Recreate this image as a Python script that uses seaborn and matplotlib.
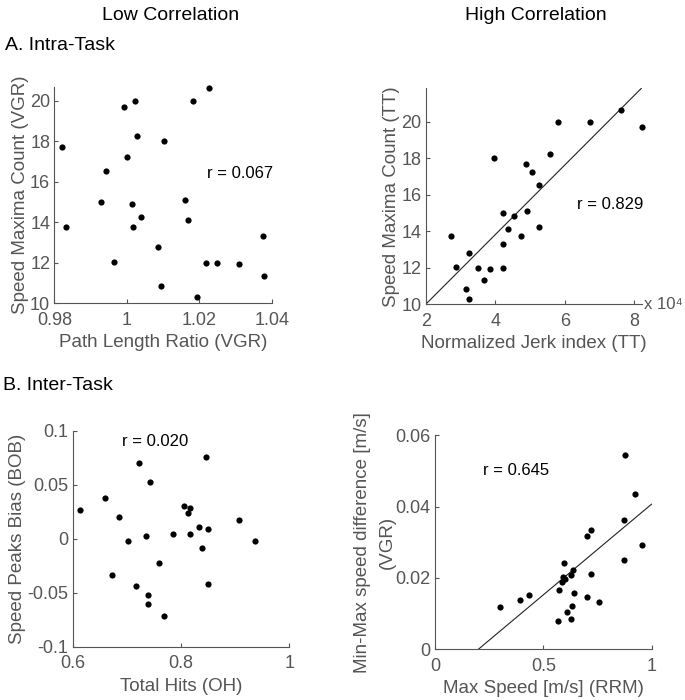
import matplotlib

matplotlib.use("Agg")

import matplotlib.pyplot as plt  # noqa: E402
import pandas as pd  # noqa: E402
import seaborn as sns  # noqa: E402

sns.set_theme(style="white")
plt.rcParams["font.family"] = ["Liberation Sans", "DejaVu Sans"]

GRAY = "#555555"

# A. Intra-task, low correlation
path_ratio_vgr = [0.9822, 0.9831, 0.9992, 1.0023, 1.0028, 1.0001, 0.9943, 0.9930,
                  1.0015, 1.0039, 1.0017, 0.9964, 1.0103, 1.0086, 1.0095, 1.0183,
                  1.0227, 1.0160, 1.0169, 1.0195, 1.0219, 1.0249, 1.0310, 1.0376,
                  1.0380]
speed_max_vgr = [17.70, 13.77, 19.70, 20.00, 18.25, 17.25, 16.54, 15.00, 14.89,
                 14.26, 13.75, 12.05, 18.03, 12.79, 10.87, 20.00, 20.66, 15.11,
                 14.11, 10.30, 12.00, 12.00, 11.92, 13.33, 11.33]

# A. Intra-task, high correlation (jerk index in units of 1e4)
jerk_tt = [2.727, 2.861, 3.234, 3.167, 3.254, 3.493, 3.675, 3.856, 3.962, 4.211,
           4.220, 4.220, 4.364, 4.545, 4.727, 4.880, 4.919, 5.053, 5.244, 5.254,
           5.569, 5.799, 6.737, 7.617, 8.210]
speed_max_tt = [13.75, 12.03, 12.80, 10.86, 10.29, 11.99, 11.33, 11.92, 18.04,
                11.99, 14.99, 13.33, 14.11, 14.86, 13.75, 17.71, 15.12, 17.26,
                16.54, 14.24, 18.24, 20.00, 20.00, 20.68, 19.71]

# B. Inter-task, low correlation
total_hits_oh = [0.6129, 0.6597, 0.6735, 0.6862, 0.7028, 0.7163, 0.7231, 0.7360,
                 0.7428, 0.7397, 0.7397, 0.7594, 0.7692, 0.7858, 0.8062, 0.8166,
                 0.8135, 0.8166, 0.8332, 0.8394, 0.8468, 0.8498, 0.8498, 0.9065,
                 0.9366]
peaks_bias_bob = [0.0265, 0.0377, -0.0333, 0.0204, -0.0025, -0.0438, 0.0704,
                  0.0028, 0.0525, -0.0519, -0.0602, -0.0225, -0.0716, 0.0043,
                  0.0299, 0.0281, 0.0238, 0.0046, 0.0108, -0.0086, 0.0756, 0.0093,
                  -0.0417, 0.0170, -0.0019]

# B. Inter-task, high correlation
max_speed_rrm = [0.3015, 0.392, 0.432, 0.568, 0.574, 0.588, 0.589, 0.597, 0.600,
                 0.611, 0.626, 0.631, 0.626, 0.638, 0.642, 0.700, 0.720, 0.720,
                 0.702, 0.757, 0.872, 0.875, 0.874, 0.923, 0.954]
minmax_diff_vgr = [0.01187, 0.01383, 0.01514, 0.00804, 0.01664, 0.01897, 0.02037,
                   0.02421, 0.01963, 0.01037, 0.02084, 0.01206, 0.00841, 0.02215,
                   0.01589, 0.03168, 0.03346, 0.02121, 0.01477, 0.01327, 0.03626,
                   0.05458, 0.02505, 0.04355, 0.02925]

# least-squares lines: (x0, y0, slope)
fit_tt = (2.0, 10.0, 1.911)
fit_rrm = (0.2, 0.0, 0.0509)

r_values = ["r = 0.067", "r = 0.829", "r = 0.020", "r = 0.645"]


def style_axes(ax, xticks, xlabels, yticks, ylabels, xlim, ylim):
    ax.set_xlim(xlim)
    ax.set_ylim(ylim)
    ax.set_xticks(xticks)
    ax.set_xticklabels(xlabels)
    ax.set_yticks(yticks)
    ax.set_yticklabels(ylabels)
    for side in ("top", "right"):
        ax.spines[side].set_visible(False)
    for side in ("left", "bottom"):
        ax.spines[side].set_color(GRAY)
        ax.spines[side].set_linewidth(0.8)
    ax.tick_params(direction="in", length=3, width=0.8, color=GRAY,
                   labelcolor=GRAY, labelsize=13, left=True, bottom=True)
    ax.tick_params(axis="x", pad=6)
    ax.tick_params(axis="y", pad=3)
    ax.xaxis.label.set_color(GRAY)
    ax.yaxis.label.set_color(GRAY)
    ax.xaxis.label.set_fontsize(13.5)
    ax.yaxis.label.set_fontsize(13.5)


def scatter(ax, x, y, xlabel, ylabel, ypad=1, spacing=1.2):
    df = pd.DataFrame({"x": x, "y": y})
    sns.scatterplot(data=df, x="x", y="y", ax=ax, color="black", s=20,
                    linewidth=0, clip_on=False, zorder=3)
    ax.set_xlabel(xlabel, labelpad=4)
    ax.set_ylabel(ylabel, labelpad=ypad, linespacing=spacing)


fig = plt.figure(figsize=(6.85, 7.0), dpi=100)
ax1 = fig.add_axes([0.0793, 0.5667, 0.3174, 0.3094])
ax2 = fig.add_axes([0.6215, 0.5653, 0.3153, 0.3086])
ax3 = fig.add_axes([0.1061, 0.0761, 0.3162, 0.3086])
ax4 = fig.add_axes([0.6350, 0.0724, 0.3163, 0.3057])

scatter(ax1, path_ratio_vgr, speed_max_vgr, "Path Length Ratio (VGR)",
        "Speed Maxima Count (VGR)")
style_axes(ax1, [0.98, 1.0, 1.02, 1.04], ["0.98", "1", "1.02", "1.04"],
           [10, 12, 14, 16, 18, 20], ["10", "12", "14", "16", "18", "20"],
           (0.98, 1.04), (10, 20.7))
ax1.text(1.0221, 16.43, r_values[0], fontsize=12, va="center", color="black")

scatter(ax2, jerk_tt, speed_max_tt, "Normalized Jerk index (TT)",
        "Speed Maxima Count (TT)")
ax2.axline(fit_tt[:2], slope=fit_tt[2], color="#222222", linewidth=0.8)
style_axes(ax2, [2, 4, 6, 8], ["2", "4", "6", "8"],
           [10, 12, 14, 16, 18, 20], ["10", "12", "14", "16", "18", "20"],
           (2, 8.21), (10, 21.85))
ax2.text(6.354, 15.5, r_values[1], fontsize=12, va="center", color="black")
ax2.text(1.01, 0.0, "x 10\u2074", transform=ax2.transAxes, fontsize=12,
         va="center", ha="left", color=GRAY)

scatter(ax3, total_hits_oh, peaks_bias_bob, "Total Hits (OH)",
        "Speed Peaks Bias (BOB)")
style_axes(ax3, [0.6, 0.8, 1.0], ["0.6", "0.8", "1"],
           [-0.1, -0.05, 0, 0.05, 0.1], ["-0.1", "-0.05", "0", "0.05", "0.1"],
           (0.6, 1.0), (-0.1, 0.1))
ax3.text(0.692, 0.0898, r_values[2], fontsize=12, va="center", color="black")

scatter(ax4, max_speed_rrm, minmax_diff_vgr, "Max Speed [m/s] (RRM)",
        "Min-Max speed difference [m/s]\n(VGR)", ypad=0, spacing=1.6)
ax4.axline(fit_rrm[:2], slope=fit_rrm[2], color="#222222", linewidth=0.8)
style_axes(ax4, [0, 0.5, 1.0], ["0", "0.5", "1"],
           [0, 0.02, 0.04, 0.06], ["0", "0.02", "0.04", "0.06"],
           (0, 1.0), (0, 0.06))
ax4.text(0.223, 0.05, r_values[3], fontsize=12, va="center", color="black")

fig.text(171 / 685, 1 - 15 / 700, "Low Correlation", ha="center", va="center",
         fontsize=14, color="black")
fig.text(536 / 685, 1 - 15 / 700, "High Correlation", ha="center", va="center",
         fontsize=14, color="black")
fig.text(5 / 685, 1 - 45 / 700, "A. Intra-Task", ha="left", va="center",
         fontsize=14, color="black")
fig.text(3 / 685, 1 - 385 / 700, "B. Inter-Task", ha="left", va="center",
         fontsize=14, color="black")

fig.savefig("out.png", dpi=100)
